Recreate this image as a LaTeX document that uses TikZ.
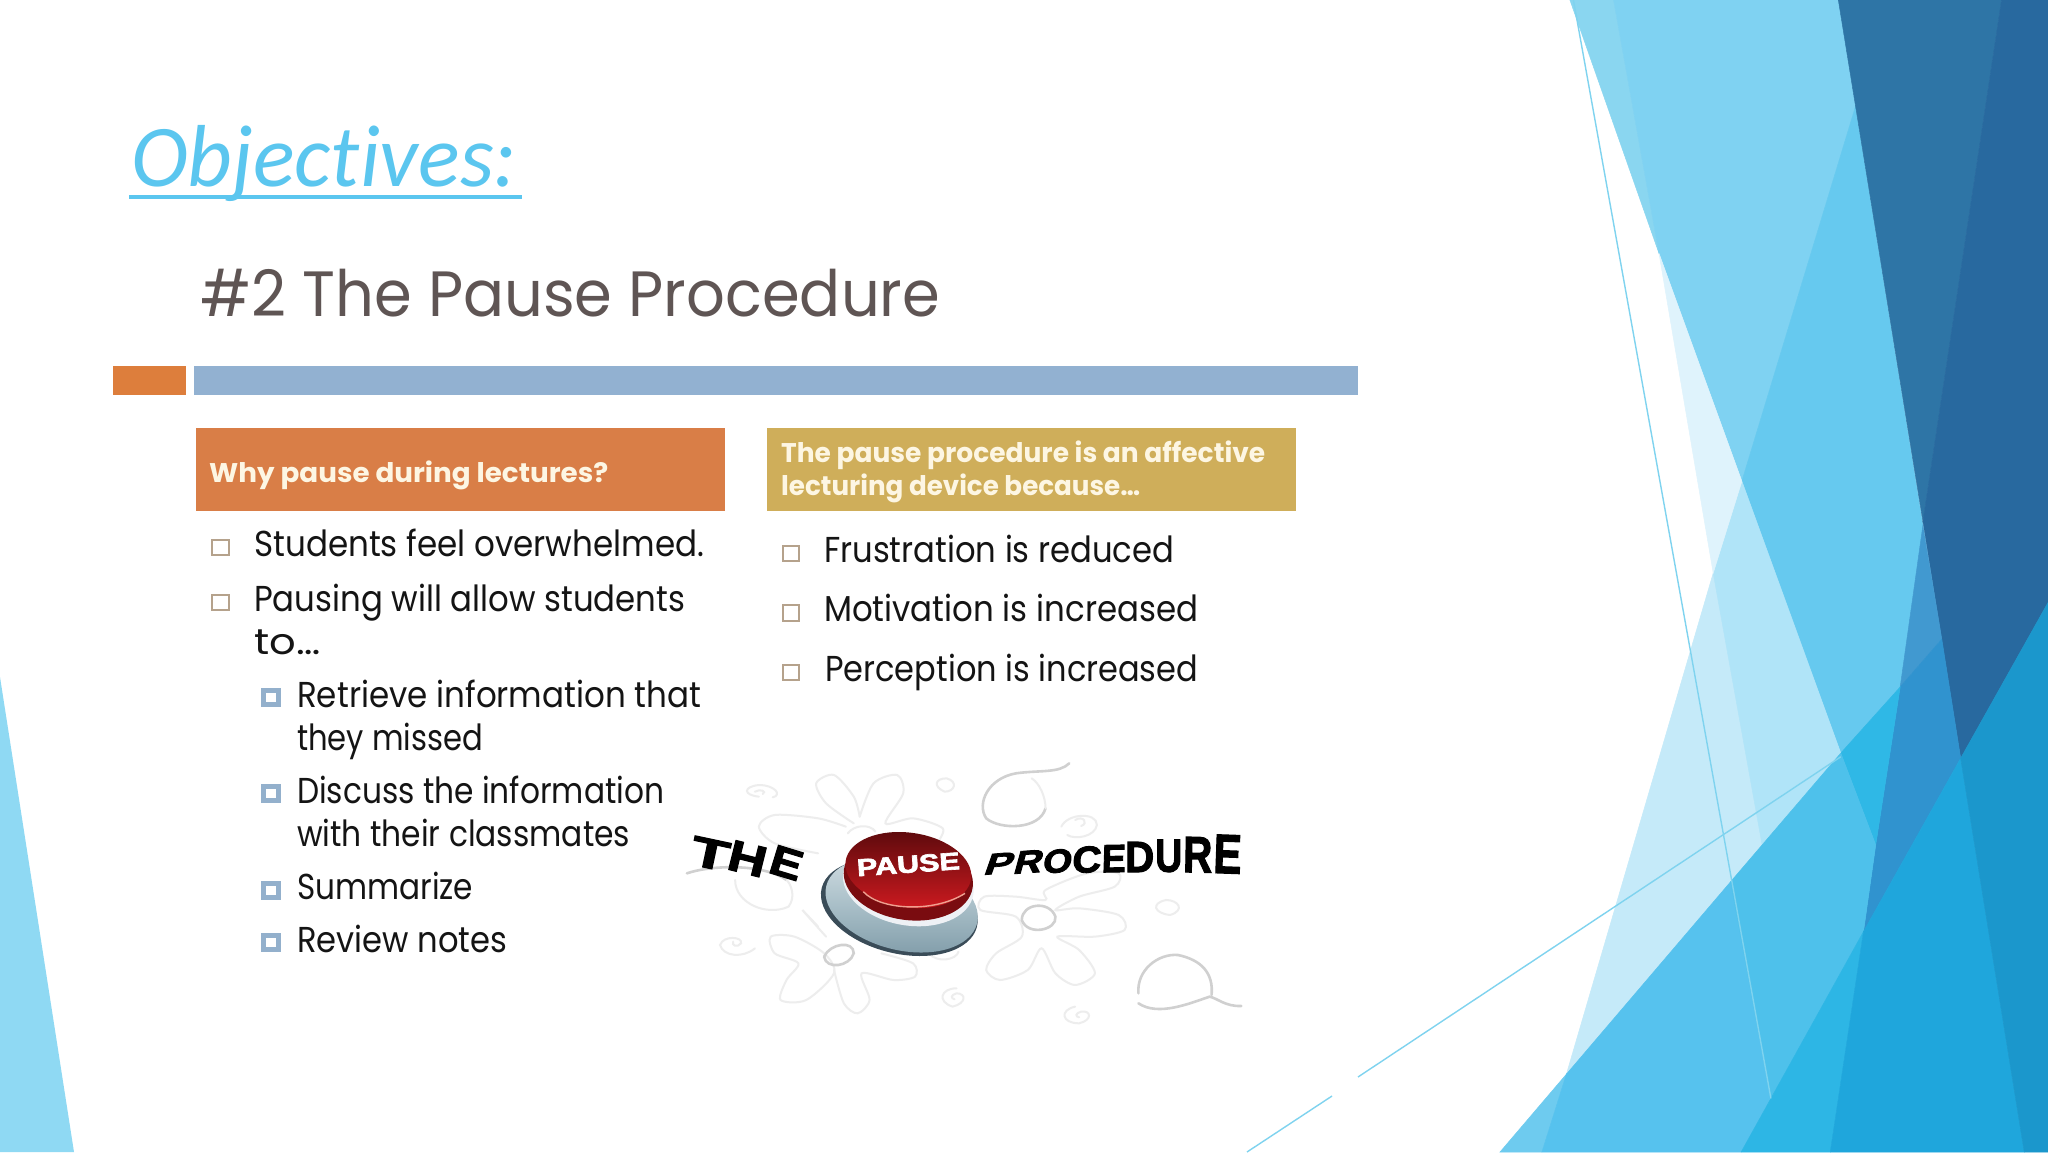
\documentclass[tikz,border=0pt]{standalone}
\usepackage{fontspec}
\setmainfont{Poppins}
\newfontfamily\ttlfont[Ligatures=NoCommon]{Carlito}
\newfontfamily\btnfont{Liberation Sans}[BoldFeatures={FakeBold=2.5}]
\definecolor{c1}{HTML}{7FD2F2}\definecolor{c2}{HTML}{8AD6F0}\definecolor{c3}{HTML}{66C9EF}
\definecolor{c4}{HTML}{2E75A6}\definecolor{c5}{HTML}{28699F}\definecolor{c6}{HTML}{4199D0}
\definecolor{c7}{HTML}{3093CF}\definecolor{c8}{HTML}{2FB8E6}\definecolor{c9}{HTML}{56C2EE}
\definecolor{c10}{HTML}{4EC1EB}\definecolor{c11}{HTML}{6ECBEF}\definecolor{c12}{HTML}{2DB6E5}
\definecolor{c13}{HTML}{1FA6DC}\definecolor{c14}{HTML}{1B97CC}\definecolor{c15}{HTML}{C5EAF9}
\definecolor{c16}{HTML}{B0E4F8}\definecolor{c17}{HTML}{DFF3FC}\definecolor{c18}{HTML}{8FD9F3}
\definecolor{thin}{HTML}{7FD3EF}\definecolor{ttl}{HTML}{5BC6EF}\definecolor{sub}{HTML}{5F5554}
\definecolor{orbar}{HTML}{DD7E3C}\definecolor{blbar}{HTML}{92B1D1}\definecolor{orbox}{HTML}{D97E47}
\definecolor{gdbox}{HTML}{CFAE5A}\definecolor{headtx}{HTML}{FDF6E3}\definecolor{txt}{HTML}{141414}
\definecolor{bhol}{HTML}{B5A28C}\definecolor{bsq}{HTML}{93B0CC}
\definecolor{swl}{HTML}{EDEDED}\definecolor{swd}{HTML}{D0D0D0}
\definecolor{bout}{HTML}{3A4C58}\definecolor{btop}{HTML}{D5E0E5}\definecolor{bmid}{HTML}{A9BFC8}\definecolor{bbot}{HTML}{7F9BA8}
\definecolor{bring}{HTML}{EEF1F5}\definecolor{rside}{HTML}{7A0C10}\definecolor{rdark}{HTML}{5A0A0C}\definecolor{rbrt}{HTML}{D01A20}\definecolor{rhl}{HTML}{F0A090}
\newcommand\tx[6]{\node[#1,anchor=base west,inner sep=0pt] (#2) at (#3,#4) {\resizebox{#5pt}{\height}{#6}};}
\newcommand\ltr[8]{\node[anchor=base west,inner sep=0pt,text=black,rotate=#4,xslant=#5] (#1) at (#2,#3) {\resizebox{#6pt}{#7pt}{\btnfont\bfseries #8}};}
\newcommand\fc[2]{\path[fill=#1,draw=#1,line width=0.5pt] #2;}
\tikzset{
 listtx/.style={text=txt,font=\fontsize{36}{36}\selectfont},
 headtxt/.style={text=headtx,font=\fontsize{27}{27}\selectfont\bfseries},
 hol/.style={draw=bhol,line width=2pt,fill=white},
 sq/.style={draw=bsq,line width=5pt,fill=white},
 thinl/.style={draw=thin,line width=1.4pt},
 swirl/.style={draw=swl,line width=2pt,line cap=round},
 swirld/.style={draw=swd,line width=2.6pt,line cap=round},
}
\begin{document}
\begin{tikzpicture}[x=1pt,y=-1pt]
\useasboundingbox (0,0) rectangle (2048,1152);
\fill[white] (0,0) rectangle (2048,1152);
\fill[c18] (0,677) -- (74,1152) -- (0,1152) -- cycle;
% right facets, in crop coordinates
\begin{scope}[shift={(1500,0)},xscale=0.34952,yscale=0.73469]
\fc{c2}{(200,0) -- (325,0) -- (455,345) -- cycle}
\fc{c1}{(325,0) -- (968,0) -- (1017,145) -- (692,655) -- (455,345) -- cycle}
\fc{c3}{(1017,145) -- (1210,715) -- (1145,935) -- (975,1025) -- (692,655) -- cycle}
\fc{c4}{(968,0) -- (1435,0) -- (1210,710) -- cycle}
\fc{c5}{(1435,0) -- (1568,0) -- (1568,820) -- (1318,1032) -- (1210,710) -- cycle}
\fc{c6}{(1210,715) -- (1264,870) -- (1145,935) -- cycle}
\fc{c7}{(1145,935) -- (1264,870) -- (1318,1032) -- (1040,1268) -- (1075,1150) -- cycle}
\fc{c8}{(975,1025) -- (1145,935) -- (1075,1150) -- cycle}
\fc{c15}{(190,1462) -- (610,780) -- (750,1150) -- (660,1200) -- cycle}
\fc{c16}{(610,780) -- (692,655) -- (975,1025) -- (750,1150) -- cycle}
\fc{c17}{(455,345) -- (692,655) -- (610,780) -- cycle}
\fc{c11}{(0,1568) -- (190,1462) -- (120,1568) -- cycle}
\fc{c9}{(190,1462) -- (660,1200) -- (775,1495) -- (690,1568) -- (120,1568) -- cycle}
\fc{c10}{(660,1200) -- (975,1025) -- (1075,1150) -- (1040,1268) -- (775,1495) -- cycle}
\fc{c12}{(690,1568) -- (1040,1268) -- (945,1568) -- cycle}
\fc{c13}{(945,1568) -- (1040,1268) -- (1318,1032) -- (1500,1568) -- cycle}
\fc{c14}{(1318,1032) -- (1568,820) -- (1568,1568) -- (1500,1568) -- cycle}
\coordinate (tl1) at (210,0);
\coordinate (tl2) at (775,1495);
\coordinate (tl3) at (975,1030);
\end{scope}
\draw[thinl] (tl1) -- (tl2);
\coordinate (tl4) at (1358,1077);
\coordinate (tl5) at (1332,1096);
\coordinate (tl6) at (1247,1152);
\draw[thinl] (tl3) -- (tl4);
\draw[thinl] (tl5) -- (tl6);
% title
\node[anchor=base west,inner sep=0pt,text=ttl,font=\ttlfont\itshape\fontsize{88}{88}\selectfont] (obj) at (131,186) {\resizebox{386pt}{\height}{Objectives:}};
\fill[ttl] (129,195) rectangle (522,199);
\tx{text=sub,font=\fontsize{64}{64}\selectfont}{sub}{200}{316}{740}{\#2 The Pause Procedure}
\fill[orbar] (113,366) rectangle (186,395);
\fill[blbar] (194,366) rectangle (1358,395);
\node[fill=orbox,minimum width=529pt,minimum height=83pt,inner sep=0pt,anchor=north west] (lh) at (196,428) {};
\node[fill=gdbox,minimum width=529pt,minimum height=83pt,inner sep=0pt,anchor=north west] (rh) at (767,428) {};
\tx{headtxt}{lh1}{209}{482}{399}{Why pause during lectures?}
\tx{headtxt}{rh1}{781}{462}{484}{The pause procedure is an affective}
\tx{headtxt}{rh2}{781}{495}{359}{lecturing device because…}
% left list
\tx{listtx}{a1}{254}{556}{450}{Students feel overwhelmed.}
\tx{listtx}{a2}{254}{611}{431}{Pausing will allow students}
\tx{listtx}{a3}{254}{654}{66}{to…}
\tx{listtx}{b1}{297}{707}{404}{Retrieve information that}
\tx{listtx}{b2}{297}{750}{186}{they missed}
\tx{listtx}{b3}{297}{803}{367}{Discuss the information}
\tx{listtx}{b4}{297}{846}{333}{with their classmates}
\tx{listtx}{b5}{297}{899}{176}{Summarize}
\tx{listtx}{b6}{297}{952}{210}{Review notes}
\draw[hol] (212,540) rectangle (229,555);
\draw[hol] (212,595) rectangle (229,610);
\draw[sq] (263.5,690.5) rectangle (278.5,704.5);
\draw[sq] (263.5,786.5) rectangle (278.5,800.5);
\draw[sq] (263.5,883.5) rectangle (278.5,897);
\draw[sq] (263.5,935.5) rectangle (278.5,949.5);
% right list
\tx{listtx}{c1n}{824}{562}{350}{Frustration is reduced}
\tx{listtx}{c2n}{824}{621}{374}{Motivation is increased}
\tx{listtx}{c3n}{825}{681}{373}{Perception is increased}
\draw[hol] (783,546) rectangle (799,561);
\draw[hol] (783,605) rectangle (799,621);
\draw[hol] (783,665) rectangle (799,680);
% artwork decorations, in crop coordinates
\begin{scope}[shift={(660,740)},xscale=0.3954,yscale=0.3333]
% flowers
\draw[swirl] plot[smooth] coordinates {(490,250) (420,190) (395,130) (440,105) (490,170) (505,230)};
\draw[swirl] plot[smooth] coordinates {(505,230) (540,130) (600,105) (615,160) (570,250) (640,235) (715,265) (700,310)};
\draw[swirl] plot[smooth] coordinates {(470,260) (400,235) (290,225) (250,260) (290,310) (400,340)};
\draw[swirl] plot[smooth cycle] coordinates {(415,640) (340,590) (280,590) (290,640) (350,670) (320,720) (305,780) (370,780) (440,700)};
\draw[swirl] plot[smooth] coordinates {(440,690) (465,790) (500,820) (530,780) (510,700) (590,720) (645,710) (640,670) (560,640)};
\draw[swirl] plot[smooth] coordinates {(400,560) (360,510) (420,590)};
\draw[swirl] plot[smooth cycle] coordinates {(915,590) (850,640) (825,690) (860,720) (930,690) (965,625) (1000,700) (1050,735) (1100,700) (1060,630) (1005,590) (1100,590) (1175,570) (1160,525) (1060,505) (1000,510) (1060,470) (1150,440) (1160,400) (1080,400) (975,450) (975,480) (900,470) (820,470) (810,510) (900,530)};
\draw[swirld] (915,540) .. controls (915,490) and (985,480) .. (1000,530) .. controls (1005,570) and (930,590) .. (915,540);
\draw[swirld] (415,650) .. controls (430,610) and (490,600) .. (490,640) .. controls (480,680) and (420,690) .. (415,650);
\draw[swirl] (475,280) .. controls (490,255) and (530,250) .. (545,275);
\draw[swirl] (680,640) .. controls (700,670) and (750,660) .. (755,635);
% tear drops and swooshes
\draw[swirld] (1035,70) .. controls (1010,100) and (960,90) .. (900,100) .. controls (830,115) and (800,190) .. (825,235) .. controls (860,270) and (960,270) .. (975,205);
\draw[swirl] (975,205) .. controls (975,170) and (960,130) .. (940,115);
\draw[swirld] (68,400) .. controls (130,375) and (260,370) .. (320,420);
\draw[swirl] (190,420) .. controls (190,490) and (270,530) .. (325,500) .. controls (345,470) and (330,430) .. (320,420);
\draw[swirld] (1470,798) .. controls (1430,800) and (1410,775) .. (1390,770) .. controls (1340,790) and (1260,830) .. (1210,790);
\draw[swirld] (1210,760) .. controls (1205,690) and (1260,640) .. (1310,645) .. controls (1370,660) and (1400,700) .. (1395,765);
% small spirals
\draw[swirl] (250,170) .. controls (210,165) and (210,140) .. (250,135) .. controls (290,135) and (310,165) .. (285,172);
\draw[swirl] (240,155) .. controls (255,145) and (270,155) .. (260,162);
\draw[swirl] (720,155) .. controls (690,140) and (695,115) .. (725,115) .. controls (755,125) and (745,155) .. (720,155);
\draw[swirl] (1015,260) .. controls (1030,220) and (1105,215) .. (1105,255) .. controls (1100,290) and (1050,300) .. (1030,285);
\draw[swirl] (1050,240) .. controls (1070,225) and (1085,250) .. (1065,258);
\draw[swirl] (1290,525) .. controls (1250,520) and (1240,490) .. (1280,480) .. controls (1310,480) and (1330,510) .. (1290,525);
\draw[swirl] (240,625) .. controls (210,655) and (160,650) .. (152,615) .. controls (160,585) and (210,590) .. (205,610) .. controls (195,625) and (180,615) .. (185,605);
\draw[swirl] (750,745) .. controls (710,745) and (700,785) .. (740,800) .. controls (775,790) and (775,760) .. (750,760) .. controls (735,765) and (735,775) .. (745,778);
\draw[swirl] (1050,800) .. controls (1010,810) and (1015,850) .. (1060,850) .. controls (1095,840) and (1090,810) .. (1065,815) .. controls (1050,820) and (1050,830) .. (1060,832);
% wordmark
\ltr{t1}{72}{372}{-12}{0}{38}{29}{T}
\ltr{t2}{165}{386}{-14}{0}{38}{30}{H}
\ltr{t3}{270}{396}{-17}{0}{32}{29}{E}
\ltr{p1}{815}{405}{5}{0.45}{28}{20}{P}
\ltr{p2}{890}{402}{4}{0.35}{28}{22}{R}
\ltr{p3}{965}{400}{3}{0.2}{29}{23}{O}
\ltr{p4}{1040}{399}{2}{0.12}{29}{26}{C}
\ltr{p5}{1116}{397}{1}{0.05}{24}{27}{E}
\ltr{p6}{1176}{396}{0}{0}{29}{30}{D}
\ltr{p7}{1252}{395}{0}{0}{27}{32}{U}
\ltr{p8}{1322}{396}{-1}{0}{29}{35}{R}
\ltr{p9}{1398}{398}{-2}{0}{28}{38}{E}
\end{scope}
% button, in crop coordinates
\begin{scope}[shift={(800,810)},scale=0.33333]
\fill[bout,rotate around={-14:(298,292)}] (298,292) ellipse [x radius=240,y radius=138];
\shade[top color=btop,bottom color=bbot,middle color=bmid,rotate around={-14:(305,284)}] (305,284) ellipse [x radius=233,y radius=136];
\fill[bring,rotate around={-10:(325,220)}] (325,220) ellipse [x radius=198,y radius=126];
\fill[rside,rotate around={-8:(325,205)}] (325,205) ellipse [x radius=195,y radius=125];
\shade[top color=rdark,bottom color=rbrt,rotate around={-8:(325,180)}] (325,180) ellipse [x radius=190,y radius=112];
\draw[rhl,line width=1.4pt] (190,245) .. controls (240,300) and (400,310) .. (495,250);
\node[inner sep=0pt,text=white,rotate=4] (pz) at (325,163) {\resizebox{103pt}{17pt}{\btnfont\bfseries PAUSE}};
\end{scope}
\end{tikzpicture}
\end{document}
